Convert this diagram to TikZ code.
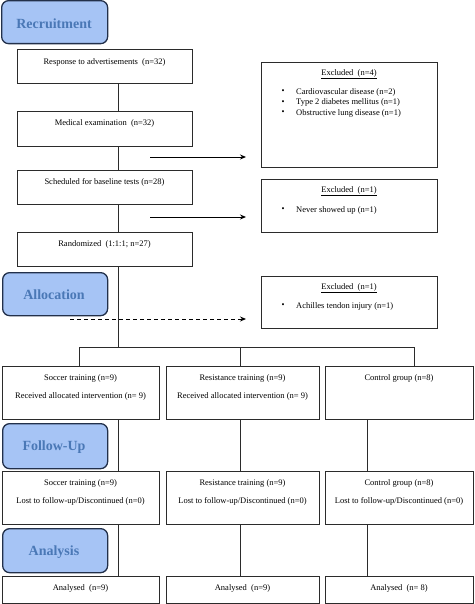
\documentclass[tikz,border=0pt]{standalone}
\usepackage{fontspec}
\setmainfont{Liberation Serif}
\usetikzlibrary{calc,arrows.meta}
\definecolor{phasefill}{HTML}{A6C4F5}
\definecolor{phasetext}{HTML}{4A78B6}
\definecolor{phaseline}{HTML}{22304A}
\definecolor{lineclr}{HTML}{2B2B2B}
\begin{document}
\begin{tikzpicture}[x=1pt,y=-1pt,
  box/.style={draw=lineclr, line width=0.9pt, anchor=north west, inner sep=0pt},
  phase/.style={draw=phaseline, line width=1.3pt, fill=phasefill, rounded corners=7pt, anchor=north west, inner sep=0pt},
  phasetxt/.style={font=\fontsize{14}{16}\selectfont\bfseries, text=phasetext, inner sep=0pt},
  txt/.style={font=\fontsize{8.5}{10}\selectfont, inner sep=0pt, text=black},
  conn/.style={draw=lineclr, line width=0.9pt},
  arr/.style={draw=black, line width=0.9pt, -{Stealth[length=6pt,width=5pt]}},
  darr/.style={arr, dash pattern=on 4pt off 3pt}
]
\useasboundingbox (0,0) rectangle (474,604);
% phase boxes
\node[phase, minimum width=106pt, minimum height=43pt] (p1) at (1,0) {};
\node[phasetxt] (p1t) at (54,24) {Recruitment};
\node[phase, minimum width=105pt, minimum height=43pt] (p2) at (2,272) {};
\node[phasetxt] (p2t) at (54,295) {Allocation};
\node[phase, minimum width=105pt, minimum height=45pt] (p3) at (2,423) {};
\node[phasetxt] (p3t) at (54,447) {Follow-Up};
\node[phase, minimum width=105pt, minimum height=44pt] (p4) at (2,528) {};
\node[phasetxt] (p4t) at (54,552) {Analysis};
% recruitment column
\node[box, minimum width=175pt, minimum height=34pt] (r1) at (17,49) {};
\node[txt] (r1t) at (104.5,62) {Response to advertisements\ \ (n=32)};
\node[box, minimum width=175pt, minimum height=35pt] (r2) at (17,111) {};
\node[txt] (r2t) at (104.5,123) {Medical examination\ \ (n=32)};
\node[box, minimum width=175pt, minimum height=34pt] (r3) at (17,170) {};
\node[txt] (r3t) at (104.5,182) {Scheduled for baseline tests (n=28)};
\node[box, minimum width=175pt, minimum height=34pt] (r4) at (17,232) {};
\node[txt] (r4t) at (104.5,244) {Randomized\ \ (1:1:1; n=27)};
% excluded boxes
\node[box, minimum width=176pt, minimum height=105pt] (e1) at (261,62) {};
\node[txt] (e1t) at (349,74) {\underline{Excluded\ \ (n=4)}};
\node[txt] (e1b1) at (283,92) {\textbullet};
\node[txt, anchor=west] (e1l1) at (296,92) {Cardiovascular disease (n=2)};
\node[txt] (e1b2) at (283,102.5) {\textbullet};
\node[txt, anchor=west] (e1l2) at (296,102.5) {Type 2 diabetes mellitus (n=1)};
\node[txt] (e1b3) at (283,113) {\textbullet};
\node[txt, anchor=west] (e1l3) at (296,113) {Obstructive lung disease (n=1)};
\node[box, minimum width=176pt, minimum height=53pt] (e2) at (261,179) {};
\node[txt] (e2t) at (349,191) {\underline{Excluded\ \ (n=1)}};
\node[txt] (e2b1) at (283,210) {\textbullet};
\node[txt, anchor=west] (e2l1) at (296,210) {Never showed up (n=1)};
\node[box, minimum width=176pt, minimum height=52pt] (e3) at (261,276) {};
\node[txt] (e3t) at (349,288) {\underline{Excluded\ \ (n=1)}};
\node[txt] (e3b1) at (283,306) {\textbullet};
\node[txt, anchor=west] (e3l1) at (296,306) {Achilles tendon injury (n=1)};
% allocation row
\node[box, minimum width=157pt, minimum height=53pt] (a1) at (2,366) {};
\node[txt] (a1t) at (80.5,378) {Soccer training (n=9)};
\node[txt] (a1u) at (80.5,396) {Received allocated intervention (n= 9)};
\node[box, minimum width=153pt, minimum height=53pt] (a2) at (166,366) {};
\node[txt] (a2t) at (242.5,378) {Resistance training (n=9)};
\node[txt] (a2u) at (242.5,396) {Received allocated intervention (n= 9)};
\node[box, minimum width=148pt, minimum height=53pt] (a3) at (325,366) {};
\node[txt] (a3t) at (399,378) {Control group (n=8)};
% follow-up row
\node[box, minimum width=157pt, minimum height=53pt] (f1) at (2,471) {};
\node[txt] (f1t) at (80.5,483) {Soccer training (n=9)};
\node[txt] (f1u) at (80.5,501) {Lost to follow-up/Discontinued (n=0)};
\node[box, minimum width=153pt, minimum height=53pt] (f2) at (166,471) {};
\node[txt] (f2t) at (242.5,483) {Resistance training (n=9)};
\node[txt] (f2u) at (242.5,501) {Lost to follow-up/Discontinued (n=0)};
\node[box, minimum width=148pt, minimum height=53pt] (f3) at (325,471) {};
\node[txt] (f3t) at (399,483) {Control group (n=8)};
\node[txt] (f3u) at (399,501) {Lost to follow-up/Discontinued (n=0)};
% analysis row
\node[box, minimum width=157pt, minimum height=27pt] (n1) at (2,576) {};
\node[txt] (n1t) at (80.5,588) {Analysed\ \ (n=9)};
\node[box, minimum width=153pt, minimum height=27pt] (n2) at (166,576) {};
\node[txt] (n2t) at (242.5,588) {Analysed\ \ (n=9)};
\node[box, minimum width=148pt, minimum height=27pt] (n3) at (325,576) {};
\node[txt] (n3t) at (399,588) {Analysed\ \ (n= 8)};
% coordinates
\coordinate (sx) at (118,0);
\coordinate (mx) at (240,0);
\coordinate (cx) at (367,0);
\coordinate (bxA) at (79,0);
\coordinate (bxC) at (414,0);
\coordinate (br) at (118,347);
\coordinate (ar1s) at (150,157);
\coordinate (ar1e) at (246,157);
\coordinate (ar2s) at (150,217);
\coordinate (ar2e) at (246,217);
\coordinate (ar3s) at (70,319);
\coordinate (ar3e) at (246,319);
% connectors
\draw[conn] (r1.south -| sx) -- (r2.north -| sx);
\draw[conn] (r2.south -| sx) -- (r3.north -| sx);
\draw[conn] (r3.south -| sx) -- (r4.north -| sx);
\draw[conn] (r4.south -| sx) -- (br);
\draw[conn] (a1.north -| bxA) -- (bxA |- br) -- (bxC |- br) -- (a3.north -| bxC);
\draw[conn] (a2.north -| mx) -- (mx |- br);
\draw[conn] (a1.south -| sx) -- (f1.north -| sx);
\draw[conn] (a2.south -| mx) -- (f2.north -| mx);
\draw[conn] (a3.south -| cx) -- (f3.north -| cx);
\draw[conn] (f1.south -| sx) -- (n1.north -| sx);
\draw[conn] (f2.south -| mx) -- (n2.north -| mx);
\draw[conn] (f3.south -| cx) -- (n3.north -| cx);
\draw[arr] (ar1s) -- (ar1e);
\draw[arr] (ar2s) -- (ar2e);
\draw[darr] (ar3s) -- (ar3e);
\end{tikzpicture}
\end{document}
